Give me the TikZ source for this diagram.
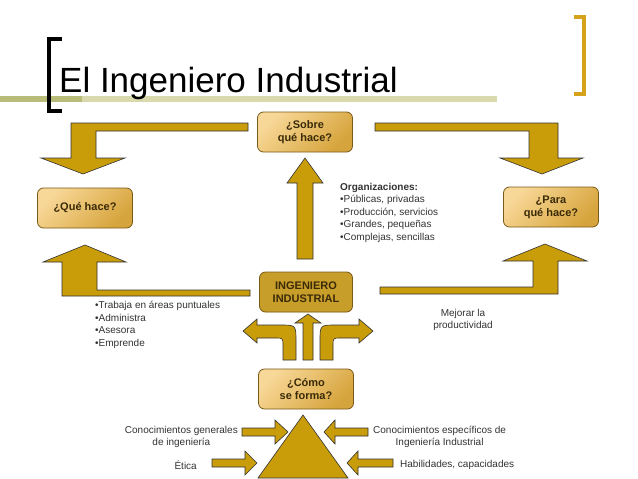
\documentclass[tikz,border=0pt]{standalone}
\usepackage{fontspec}
\setmainfont{Liberation Sans}
\begin{document}
\begin{tikzpicture}[x=1pt,y=-1pt,
  box/.style={draw=boxedge,line width=0.8pt,rounded corners=6pt,minimum width=95pt,minimum height=40pt,
    left color=boxlight,right color=boxdark,shading angle=45,align=center,font=\fontsize{11}{13}\selectfont\bfseries,text=textc,inner sep=2pt},
  arr/.style={fill=gold,draw=black!80,line width=0.6pt,line join=miter},
  small/.style={font=\fontsize{10}{12.5}\selectfont,text=black!80,inner sep=0pt,align=left}]
\definecolor{gold}{HTML}{C99C0A}
\definecolor{boxlight}{HTML}{F8D898}
\definecolor{boxdark}{HTML}{D6A43C}
\definecolor{boxedge}{HTML}{7A5A18}
\definecolor{textc}{HTML}{3A2A08}
\definecolor{olive}{HTML}{D8DAAE}
\definecolor{olived}{HTML}{B8BC78}
\definecolor{brk}{HTML}{D4A31A}
\definecolor{ingfill}{HTML}{C89E2A}
\useasboundingbox (0,0) rectangle (638,479);
\fill[white] (0,0) rectangle (638,479);
% title decoration
\fill[olive] (0,96) rectangle (497,102);
\fill[olived] (0,96) rectangle (82,102);
\draw[line width=4pt,black] (62,39) -- (49,39) -- (49,111) -- (62,111);
\draw[line width=3.5pt,brk] (574,17) -- (584,17) -- (584,94) -- (574,94);
\node[anchor=base west,inner sep=0pt,font=\fontsize{35}{38}\selectfont] (title) at (59,92) {El Ingeniero Industrial};
% big arrows
\draw[arr] (248,123) -- (71,123) -- (71,158) -- (41,158) -- (83,174) -- (125,158) -- (96,158) -- (96,131) -- (248,131) -- cycle;
\draw[arr] (375,123) -- (558,123) -- (558,158) -- (583,158) -- (542,174) -- (500,158) -- (529,158) -- (529,131) -- (375,131) -- cycle;
\draw[arr] (250,290) -- (97,290) -- (97,262) -- (126,262) -- (85,245) -- (43,262) -- (62,262) -- (62,296) -- (250,296) -- cycle;
\draw[arr] (380,287) -- (533,287) -- (533,261) -- (503,261) -- (545,244) -- (587,261) -- (558,261) -- (558,294) -- (380,294) -- cycle;
\draw[arr] (297,259) -- (297,183) -- (287,183) -- (305,158) -- (323,183) -- (313,183) -- (313,259) -- cycle;
% three arrows
\draw[arr] (303,360) -- (303,323) -- (295,323) -- (308,314) -- (321,323) -- (313,323) -- (313,360) -- cycle;
\draw[arr] (283,360) -- (283,346) .. controls (283,338) .. (275,338) -- (257,338) -- (257,343) -- (243,331) -- (257,319) -- (257,325) -- (280,325) .. controls (296,325) .. (296,341) -- (296,360) -- cycle;
\draw[arr] (333,360) -- (333,346) .. controls (333,338) .. (341,338) -- (359,338) -- (359,343) -- (373,331) -- (359,319) -- (359,325) -- (336,325) .. controls (320,325) .. (320,341) -- (320,360) -- cycle;
% triangle
\draw[arr] (303,415) -- (348,478) -- (258,478) -- cycle;
% small arrows
\draw[arr] (242,428) -- (275,428) -- (275,420) -- (288,432) -- (275,444) -- (275,436) -- (242,436) -- cycle;
\draw[arr] (212,459) -- (245,459) -- (245,451) -- (257,463) -- (245,475) -- (245,467) -- (212,467) -- cycle;
\draw[arr] (368,428) -- (335,428) -- (335,420) -- (324,432) -- (335,444) -- (335,436) -- (368,436) -- cycle;
\draw[arr] (393,459) -- (358,459) -- (358,451) -- (347,463) -- (358,475) -- (358,467) -- (393,467) -- cycle;
% boxes
\node[box] (sobre) at (305,132) {¿Sobre\\qué hace?};
\node[box] (que) at (85,208) {¿Qué hace?};
\node[box] (para) at (551,207) {¿Para\\qué hace?};
\node[box,fill=ingfill,left color=ingfill,right color=ingfill,minimum width=93pt] (ing) at (306,292) {INGENIERO\\INDUSTRIAL};
\node[box] (como) at (306,389) {¿Cómo\\se forma?};
% texts
\node[small,anchor=north west] (org) at (340,183) {\textbf{Organizaciones:}\\•Públicas, privadas\\•Producción, servicios\\•Grandes, pequeñas\\•Complejas, sencillas};
\node[small,anchor=north west] (trab) at (95,301) {•Trabaja en áreas puntuales\\•Administra\\•Asesora\\•Emprende};
\node[small,align=center] (mej) at (463,320) {Mejorar la\\productividad};
\node[small,align=center,anchor=east] (cg) at (238,437) {Conocimientos generales\\de ingeniería};
\node[small,anchor=east] (etica) at (197,465) {Ética};
\node[small,align=center,anchor=west] (ce) at (373,437) {Conocimientos específicos de\\Ingeniería Industrial};
\node[small,anchor=west] (hab) at (400,465) {Habilidades, capacidades};
\end{tikzpicture}
\end{document}
